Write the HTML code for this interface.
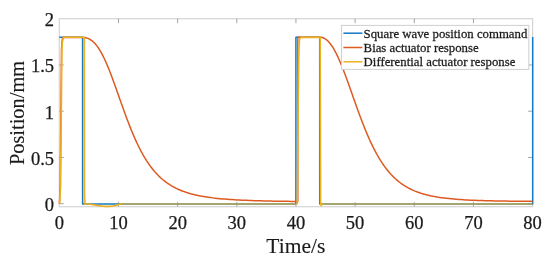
<!DOCTYPE html>
<html><head><meta charset="utf-8"><style>
html,body{margin:0;padding:0;background:#fff;width:550px;height:263px;overflow:hidden}
svg{display:block}
text{font-family:"Liberation Serif","Times New Roman",serif;fill:#1a1a1a}
.b{stroke:#1a1a1a;stroke-width:0.25px}
.c{stroke:#1a1a1a;stroke-width:0.12px}
</style></head><body>
<svg width="550" height="263" viewBox="0 0 550 263">
<rect x="59.3" y="18.7" width="473.3" height="188.0" fill="#fff" stroke="#d4d4d4" stroke-width="1.2"/>
<g stroke="#9a9a9a" stroke-width="0.9" fill="none"><path d="M118.47,206.7v-4.5M118.47,18.7v4.5"/><path d="M177.63,206.7v-4.5M177.63,18.7v4.5"/><path d="M236.80,206.7v-4.5M236.80,18.7v4.5"/><path d="M295.96,206.7v-4.5M295.96,18.7v4.5"/><path d="M355.12,206.7v-4.5M355.12,18.7v4.5"/><path d="M414.29,206.7v-4.5M414.29,18.7v4.5"/><path d="M473.46,206.7v-4.5M473.46,18.7v4.5"/><path d="M59.3,203.70h4.5M532.6,203.70h-4.5"/><path d="M59.3,157.45h4.5M532.6,157.45h-4.5"/><path d="M59.3,111.20h4.5M532.6,111.20h-4.5"/><path d="M59.3,64.95h4.5M532.6,64.95h-4.5"/></g>
<g fill="none" stroke-width="1.5" stroke-linejoin="round">
<path d="M59.30,37.20 L82.60,37.20 L82.60,204.00 L295.90,204.00 L295.90,37.20 L319.70,37.20 L319.70,204.00 L532.70,204.00 L532.70,37.00" stroke="#1579C4"/>
<path d="M59.40,203.70 L60.20,185.00 L60.90,110.00 L61.50,50.00 L61.90,42.00 L62.50,38.00 L63.50,37.30 L84.15,37.43 L84.74,37.53 L85.34,37.64 L85.93,37.78 L86.53,37.94 L87.12,38.13 L87.72,38.34 L88.31,38.59 L88.91,38.86 L89.50,39.16 L90.10,39.50 L90.69,39.87 L91.28,40.27 L91.88,40.71 L92.47,41.18 L93.07,41.70 L93.66,42.24 L94.26,42.83 L94.85,43.45 L95.45,44.12 L96.04,44.82 L96.64,45.56 L97.23,46.35 L97.83,47.17 L98.42,48.03 L99.01,48.93 L99.61,49.87 L100.20,50.85 L100.80,51.87 L101.39,52.93 L101.99,54.02 L102.58,55.15 L103.18,56.32 L103.77,57.53 L104.37,58.76 L104.96,60.04 L105.56,61.34 L106.15,62.68 L106.74,64.05 L107.34,65.45 L107.93,66.87 L108.53,68.33 L109.12,69.80 L109.72,71.31 L110.31,72.83 L110.91,74.38 L111.50,75.95 L112.10,77.53 L112.69,79.14 L113.29,80.76 L113.88,82.39 L114.48,84.03 L115.07,85.69 L115.66,87.35 L116.26,89.03 L116.85,90.70 L117.45,92.39 L118.04,94.08 L118.64,95.77 L119.23,97.46 L119.83,99.15 L120.42,100.83 L121.02,102.52 L121.61,104.20 L122.21,105.87 L122.80,107.54 L123.39,109.20 L123.99,110.85 L124.58,112.49 L125.18,114.11 L125.77,115.73 L126.37,117.33 L126.96,118.92 L127.56,120.50 L128.15,122.06 L128.75,123.60 L129.34,125.13 L129.94,126.64 L130.53,128.13 L131.12,129.60 L131.72,131.05 L132.31,132.49 L132.91,133.90 L133.50,135.30 L134.10,136.67 L134.69,138.03 L135.29,139.36 L135.88,140.67 L136.48,141.96 L137.07,143.23 L137.67,144.48 L138.26,145.71 L138.85,146.92 L139.45,148.10 L140.04,149.27 L140.64,150.41 L141.23,151.53 L141.83,152.63 L142.42,153.71 L143.02,154.77 L143.61,155.80 L144.21,156.82 L144.80,157.82 L145.40,158.79 L145.99,159.75 L146.58,160.69 L147.18,161.60 L147.77,162.50 L148.37,163.38 L148.96,164.24 L149.56,165.08 L150.15,165.90 L150.75,166.71 L151.34,167.50 L151.94,168.27 L152.53,169.02 L153.13,169.76 L153.72,170.48 L154.31,171.18 L154.91,171.87 L155.50,172.54 L156.10,173.20 L156.69,173.84 L157.29,174.47 L157.88,175.08 L158.48,175.68 L159.07,176.27 L159.67,176.84 L160.26,177.40 L160.86,177.94 L161.45,178.47 L162.04,178.99 L162.64,179.50 L163.23,180.00 L163.83,180.48 L164.42,180.95 L165.02,181.42 L165.61,181.87 L166.21,182.31 L166.80,182.74 L167.40,183.16 L167.99,183.57 L168.59,183.97 L169.18,184.36 L169.78,184.74 L170.37,185.11 L170.96,185.47 L171.56,185.83 L172.15,186.18 L172.75,186.51 L173.34,186.84 L173.94,187.17 L174.53,187.48 L175.13,187.79 L175.72,188.09 L176.32,188.38 L176.91,188.67 L177.51,188.95 L178.10,189.22 L178.69,189.49 L179.29,189.75 L179.88,190.00 L180.48,190.25 L181.07,190.49 L181.67,190.73 L182.26,190.96 L182.86,191.19 L183.45,191.41 L184.05,191.62 L184.64,191.83 L185.24,192.04 L185.83,192.24 L186.42,192.44 L187.02,192.63 L187.61,192.82 L188.21,193.00 L188.80,193.18 L189.40,193.35 L189.99,193.53 L190.59,193.69 L191.18,193.86 L191.78,194.02 L192.37,194.17 L192.97,194.32 L193.56,194.47 L194.15,194.62 L194.75,194.76 L195.34,194.90 L195.94,195.04 L196.53,195.17 L197.13,195.30 L197.72,195.43 L198.32,195.55 L198.91,195.67 L199.51,195.79 L200.10,195.91 L200.70,196.02 L201.29,196.14 L201.88,196.24 L202.48,196.35 L203.07,196.46 L205.50,196.86 L207.93,197.23 L210.36,197.57 L212.79,197.88 L215.22,198.16 L217.64,198.43 L220.07,198.67 L222.50,198.89 L224.93,199.10 L227.36,199.29 L229.79,199.46 L232.22,199.62 L234.65,199.77 L237.08,199.91 L239.51,200.04 L241.93,200.16 L244.36,200.27 L246.79,200.37 L249.22,200.47 L251.65,200.56 L254.08,200.64 L256.51,200.72 L258.94,200.79 L261.37,200.85 L263.79,200.92 L266.22,200.98 L268.65,201.03 L271.08,201.08 L273.51,201.13 L275.94,201.18 L278.37,201.22 L280.80,201.26 L283.23,201.30 L285.66,201.33 L288.08,201.37 L290.51,201.40 L292.94,201.43 L295.37,201.45 L297.80,201.48 L297.80,37.30 L320.51,37.25 L321.11,37.33 L321.70,37.43 L322.30,37.58 L322.89,37.77 L323.49,38.00 L324.08,38.27 L324.68,38.58 L325.27,38.93 L325.87,39.34 L326.46,39.78 L327.05,40.27 L327.65,40.81 L328.24,41.39 L328.84,42.02 L329.43,42.70 L330.03,43.42 L330.62,44.18 L331.22,44.99 L331.81,45.84 L332.41,46.74 L333.00,47.68 L333.60,48.67 L334.19,49.69 L334.78,50.76 L335.38,51.86 L335.97,53.00 L336.57,54.19 L337.16,55.40 L337.76,56.66 L338.35,57.95 L338.95,59.27 L339.54,60.62 L340.14,62.00 L340.73,63.42 L341.33,64.86 L341.92,66.32 L342.51,67.81 L343.11,69.33 L343.70,70.86 L344.30,72.42 L344.89,73.99 L345.49,75.59 L346.08,77.19 L346.68,78.82 L347.27,80.45 L347.87,82.10 L348.46,83.76 L349.06,85.42 L349.65,87.10 L350.24,88.78 L350.84,90.46 L351.43,92.14 L352.03,93.83 L352.62,95.52 L353.22,97.21 L353.81,98.89 L354.41,100.58 L355.00,102.25 L355.60,103.93 L356.19,105.59 L356.79,107.25 L357.38,108.90 L357.97,110.54 L358.57,112.17 L359.16,113.79 L359.76,115.40 L360.35,116.99 L360.95,118.58 L361.54,120.14 L362.14,121.69 L362.73,123.23 L363.33,124.75 L363.92,126.25 L364.52,127.74 L365.11,129.21 L365.70,130.66 L366.30,132.09 L366.89,133.51 L367.49,134.90 L368.08,136.28 L368.68,137.63 L369.27,138.97 L369.87,140.29 L370.46,141.58 L371.06,142.86 L371.65,144.11 L372.25,145.35 L372.84,146.57 L373.43,147.76 L374.03,148.93 L374.62,150.09 L375.22,151.22 L375.81,152.33 L376.41,153.43 L377.00,154.50 L377.60,155.55 L378.19,156.58 L378.79,157.60 L379.38,158.59 L379.98,159.56 L380.57,160.52 L381.17,161.45 L381.76,162.37 L382.35,163.27 L382.95,164.14 L383.54,165.00 L384.14,165.85 L384.73,166.67 L385.33,167.48 L385.92,168.27 L386.52,169.04 L387.11,169.80 L387.71,170.54 L388.30,171.26 L388.90,171.97 L389.49,172.66 L390.08,173.34 L390.68,174.00 L391.27,174.65 L391.87,175.28 L392.46,175.89 L393.06,176.50 L393.65,177.09 L394.25,177.66 L394.84,178.22 L395.44,178.77 L396.03,179.31 L396.63,179.83 L397.22,180.34 L397.81,180.84 L398.41,181.33 L399.00,181.81 L399.60,182.27 L400.19,182.73 L400.79,183.17 L401.38,183.60 L401.98,184.02 L402.57,184.44 L403.17,184.84 L403.76,185.23 L404.36,185.61 L404.95,185.99 L405.54,186.35 L406.14,186.71 L406.73,187.05 L407.33,187.39 L407.92,187.72 L408.52,188.05 L409.11,188.36 L409.71,188.67 L410.30,188.97 L410.90,189.26 L411.49,189.54 L412.09,189.82 L412.68,190.09 L413.27,190.36 L413.87,190.62 L414.46,190.87 L415.06,191.12 L415.65,191.35 L416.25,191.59 L416.84,191.82 L417.44,192.04 L418.03,192.26 L418.63,192.47 L419.22,192.68 L419.82,192.88 L420.41,193.08 L421.00,193.27 L421.60,193.46 L422.19,193.64 L422.79,193.82 L423.38,193.99 L423.98,194.16 L424.57,194.33 L425.17,194.49 L425.76,194.65 L426.36,194.80 L426.95,194.95 L427.55,195.10 L428.14,195.24 L428.73,195.38 L429.33,195.52 L429.92,195.65 L430.52,195.78 L431.11,195.91 L431.71,196.03 L432.30,196.15 L432.90,196.27 L433.49,196.39 L434.09,196.50 L434.68,196.61 L435.28,196.72 L435.87,196.82 L436.46,196.92 L437.06,197.02 L437.65,197.12 L438.25,197.22 L438.84,197.31 L439.44,197.40 L441.82,197.74 L444.21,198.06 L446.60,198.34 L448.99,198.60 L451.38,198.84 L453.77,199.06 L456.16,199.25 L458.55,199.43 L460.94,199.60 L463.33,199.75 L465.72,199.89 L468.11,200.02 L470.50,200.13 L472.89,200.24 L475.28,200.34 L477.66,200.43 L480.05,200.51 L482.44,200.59 L484.83,200.66 L487.22,200.73 L489.61,200.79 L492.00,200.84 L494.39,200.89 L496.78,200.94 L499.17,200.98 L501.56,201.02 L503.95,201.06 L506.34,201.10 L508.73,201.13 L511.12,201.16 L513.51,201.19 L515.89,201.21 L518.28,201.24 L520.67,201.26 L523.06,201.28 L525.45,201.30 L527.84,201.32 L530.23,201.34 L532.62,201.35" stroke="#DD5B22"/>
<path d="M59.60,203.70 L60.60,185.00 L61.30,110.00 L61.90,50.00 L62.30,42.00 L63.50,37.50 L64.50,37.20 L84.30,37.20 L84.50,195.00 L85.00,204.30 L85.00,204.30 L85.15,204.27 L85.34,204.22 L85.56,204.17 L85.81,204.11 L86.09,204.05 L86.38,204.00 L86.69,203.97 L87.00,203.95 L87.31,203.95 L87.63,203.96 L87.96,203.98 L88.31,204.00 L88.68,204.04 L89.09,204.08 L89.52,204.14 L90.00,204.20 L90.53,204.27 L91.11,204.36 L91.73,204.46 L92.38,204.56 L93.04,204.67 L93.70,204.78 L94.36,204.89 L95.00,205.00 L95.62,205.11 L96.25,205.23 L96.88,205.35 L97.50,205.47 L98.12,205.59 L98.75,205.70 L99.38,205.81 L100.00,205.90 L100.62,205.98 L101.25,206.05 L101.88,206.12 L102.50,206.18 L103.12,206.23 L103.75,206.28 L104.38,206.32 L105.00,206.35 L105.62,206.38 L106.25,206.40 L106.88,206.42 L107.50,206.42 L108.12,206.42 L108.75,206.41 L109.38,206.39 L110.00,206.35 L110.63,206.30 L111.27,206.23 L111.92,206.14 L112.56,206.05 L113.20,205.95 L113.82,205.84 L114.42,205.72 L115.00,205.60 L115.56,205.47 L116.11,205.32 L116.64,205.15 L117.16,204.98 L117.65,204.82 L118.13,204.66 L118.58,204.52 L119.00,204.40 L119.40,204.30 L119.79,204.21 L120.16,204.14 L120.50,204.08 L120.81,204.02 L121.09,203.97 L121.32,203.93 L121.50,203.90" stroke="#EDB120" stroke-width="1.65"/>
<path d="M297.30,204.00 L297.60,170.00 L298.00,120.00 L298.30,90.00 L298.70,60.00 L299.00,48.00 L299.30,42.00 L299.80,38.50 L300.80,37.30 L320.20,37.30 L320.60,204.00 L321.30,205.60 L322.00,204.20 L324.00,204.00" stroke="#EDB120" stroke-width="1.65"/>
<path d="M121.50,203.90 L297.30,204.00 M324.00,204.00 L532.60,204.00" stroke="#EDB120" stroke-opacity="0.72"/>
</g>
<g font-size="18.5" class="b"><text x="59.30" y="228.8" text-anchor="middle">0</text><text x="118.47" y="228.8" text-anchor="middle">10</text><text x="177.63" y="228.8" text-anchor="middle">20</text><text x="236.80" y="228.8" text-anchor="middle">30</text><text x="295.96" y="228.8" text-anchor="middle">40</text><text x="355.12" y="228.8" text-anchor="middle">50</text><text x="414.29" y="228.8" text-anchor="middle">60</text><text x="473.46" y="228.8" text-anchor="middle">70</text><text x="532.62" y="228.8" text-anchor="middle">80</text><text x="54" y="211.10" text-anchor="end">0</text><text x="54" y="164.85" text-anchor="end">0.5</text><text x="54" y="118.60" text-anchor="end">1</text><text x="54" y="72.35" text-anchor="end">1.5</text><text x="54" y="26.10" text-anchor="end">2</text></g>
<text x="295.8" y="253.2" font-size="21.5" text-anchor="middle" class="c">Time/s</text>
<text transform="translate(23.9,113.0) rotate(-90) scale(1,1.04)" font-size="20.4" text-anchor="middle" class="c">Position/mm</text>
<rect x="341.5" y="25.4" width="187.29999999999995" height="44.00000000000001" fill="#fff" stroke="#d0d0d0" stroke-width="1"/><path d="M343.4,33.2H362.4" stroke="#1579C4" stroke-width="1.5"/><text transform="translate(363.6,37.7) scale(1,1.04)" font-size="12.8" class="b">Square wave position command</text><path d="M343.4,47.5H362.4" stroke="#DD5B22" stroke-width="1.5"/><text transform="translate(363.6,52.0) scale(1,1.04)" font-size="12.8" class="b">Bias actuator response</text><path d="M343.4,61.8H362.4" stroke="#EDB120" stroke-width="1.5"/><text transform="translate(363.6,66.3) scale(1,1.04)" font-size="12.8" class="b">Differential actuator response</text>
</svg>
</body></html>
